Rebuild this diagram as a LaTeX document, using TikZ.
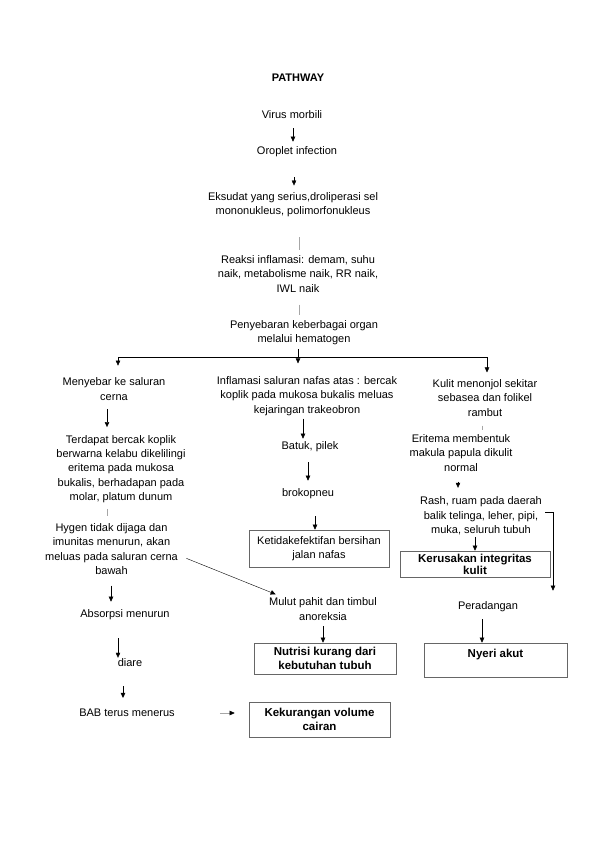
\documentclass[tikz,border=0pt]{standalone}
\usepackage{fontspec}
\setmainfont{Liberation Sans}
\usetikzlibrary{arrows.meta,positioning}

\begin{document}
\begin{tikzpicture}[
    x=1pt, y=-1pt,
    font=\fontsize{11}{14.3}\selectfont,
    txt/.style={align=center, inner sep=0pt},
    box/.style={draw=black!60, line width=0.6pt, align=center, inner sep=0pt, font=\fontsize{11.5}{14}\selectfont\bfseries},
    arr/.style={thin, -{Triangle[length=5pt, width=4.5pt]}},
    greyarr/.style={thin, black!35, -{Triangle[length=5pt, width=4.5pt, color=black]}},
    faint/.style={thin, black!35}
  ]
  \useasboundingbox (0,0) rectangle (595,842);

  % --- Top chain ---
  \node[txt, font=\fontsize{11}{14}\selectfont\bfseries] (title) at (298,78) {PATHWAY};
  \node[txt] (virus) at (292,115) {Virus morbili};
  \node[txt] (oroplet) at (297,152) {Oroplet infection};
  \node[txt] (eksudat) at (293,205) {Eksudat yang serius,droliperasi sel\\mononukleus, polimorfonukleus};
  \node[txt] (reaksi) at (298,274) {Reaksi inflamasi: demam, suhu\\naik, metabolisme naik, RR naik,\\IWL naik};
  \node[txt] (penyebaran) at (304,333) {Penyebaran keberbagai organ\\melalui hematogen};
  \coordinate (split) at (298,357);

  \draw[arr, shorten <=9pt, shorten >=5pt] (virus.south -| 293,0) -- (oroplet.north -| 293,0);
  \draw[arr, shorten <=20pt, shorten >=7pt] (oroplet.south -| 294,0) -- (eksudat.north -| 294,0);
  \draw[faint, shorten <=20pt, shorten >=5pt] (eksudat.south -| 299,0) -- (reaksi.north -| 299,0);
  \draw[faint, shorten <=12pt, shorten >=6pt] (reaksi.south -| 299,0) -- (penyebaran.north -| 299,0);

  % --- Left column ---
  \node[txt] (menyebar) at (114,389) {Menyebar ke saluran\\cerna};
  \node[txt] (terdapat) at (121,469) {Terdapat bercak koplik\\berwarna kelabu dikelilingi\\eritema pada mukosa\\bukalis, berhadapan pada\\molar, platum dunum};
  \node[txt] (hygen) at (111.5,549) {Hygen tidak dijaga dan\\imunitas menurun, akan\\meluas pada saluran cerna\\bawah};
  \node[txt] (absorpsi) at (125,615) {Absorpsi menurun};
  \node[txt] (diare) at (130,663) {diare};
  \node[txt] (bab) at (127,713) {BAB terus menerus};
  \node[box, minimum width=141pt, minimum height=35pt] (kekurangan) at (319.5,719.5) {Kekurangan volume\\cairan};

  % --- Middle column ---
  \node[txt] (inflamasi) at (307,396) {Inflamasi saluran nafas atas : bercak\\koplik pada mukosa bukalis meluas\\kejaringan trakeobron};
  \node[txt] (batuk) at (310,447) {Batuk, pilek};
  \node[txt] (brokopneu) at (308,494) {brokopneu};
  \node[box, font=\fontsize{11}{14}\selectfont, minimum width=140pt, minimum height=37pt] (ketidak) at (319,548.5) {Ketidakefektifan bersihan\\jalan nafas};
  \node[txt] (mulut) at (323,609) {Mulut pahit dan timbul\\anoreksia};
  \node[box, minimum width=142pt, minimum height=31pt] (nutrisi) at (325,658.5) {Nutrisi kurang dari\\kebutuhan tubuh};

  % --- Right column ---
  \node[txt] (kulit) at (485,398) {Kulit menonjol sekitar\\sebasea dan folikel\\rambut};
  \node[txt] (eritema) at (461,453) {Eritema membentuk\\makula papula dikulit\\normal};
  \node[txt] (rash) at (481,516) {Rash, ruam pada daerah\\balik telinga, leher, pipi,\\muka, seluruh tubuh};
  \node[box, minimum width=150pt, minimum height=26pt] (kerusakan) at (475,564) {Kerusakan integritas\\[-2pt]kulit};
  \node[txt] (peradangan) at (488,607) {Peradangan};
  \node[box, minimum width=143pt, minimum height=34pt] (nyeri) at (495.5,660) {Nyeri akut\\~};

  % --- Branching ---
  \draw[arr, shorten <=4pt, shorten >=13pt] (penyebaran.south -| 298,0) -- (inflamasi.north -| 298,0);
  \draw[arr, shorten >=12pt] (split) -| (menyebar.north -| 118,0);
  \draw[arr, shorten >=7pt] (split) -| (kulit.north -| 487,0);

  % --- Left connectors ---
  \draw[arr, shorten <=9pt, shorten >=8pt] (menyebar.south -| 107,0) -- (terdapat.north -| 107,0);
  \draw[faint, shorten <=6pt, shorten >=7pt] (terdapat.south -| 107,0) -- (hygen.north -| 107,0);
  \draw[arr, shorten <=11pt, shorten >=8pt] (hygen.south -| 111,0) -- (absorpsi.north -| 111,0);
  \draw[arr, shorten <=18pt, shorten >=1pt] (absorpsi.south -| 118,0) -- (diare.north -| 118,0);
  \draw[arr, shorten <=19pt, shorten >=11pt] (diare.south -| 123,0) -- (bab.north -| 123,0);
  \draw[greyarr, shorten <=45pt, shorten >=14pt] (bab.east) -- (kekurangan.west |- bab.east);

  % --- Middle connectors ---
  \draw[arr, shorten <=3pt, shorten >=3pt] (inflamasi.south -| 303,0) -- (batuk.north -| 303,0);
  \draw[arr, shorten <=10pt, shorten >=8pt] (batuk.south -| 308,0) -- (brokopneu.north -| 308,0);
  \draw[arr, shorten <=17pt] (brokopneu.south -| 315,0) -- (ketidak.north -| 315,0);
  \draw[arr, shorten <=9pt, shorten >=9pt] (hygen.east |- 0,555) -- (mulut.north -| 284,0);
  \draw[arr, shorten <=6pt] (mulut.south -| 323,0) -- (nutrisi.north -| 323,0);

  % --- Right connectors ---
  \draw[faint, shorten <=9pt, shorten >=4pt] (kulit.south -| 482,0) -- (eritema.north -| 482,0);
  \draw[arr, shorten <=10pt, shorten >=9pt] (eritema.south -| 458,0) -- (rash.north -| 458,0);
  \draw[arr, shorten <=2pt] (rash.south -| 475,0) -- (kerusakan.north -| 475,0);
  \draw[arr, shorten <=3pt, shorten >=11pt] (rash.east |- 0,512) -| (peradangan.north -| 553,0);
  \draw[arr, shorten <=7pt] (peradangan.south -| 482,0) -- (nyeri.north -| 482,0);

\end{tikzpicture}
\end{document}
